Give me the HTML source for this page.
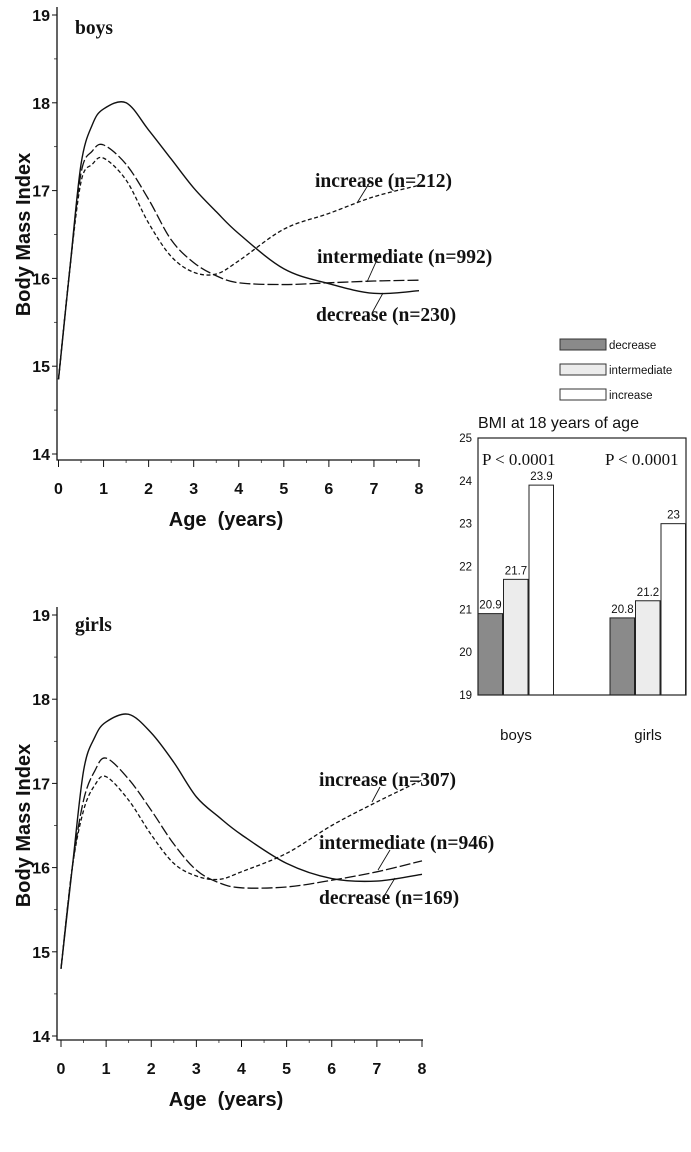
<!DOCTYPE html>
<html><head><meta charset="utf-8"><style>
html,body{margin:0;padding:0;background:#fff;}
svg{display:block;}
.tk{font-family:"Liberation Sans",sans-serif;font-weight:bold;font-size:16px;fill:#111;}
.ttl{font-family:"Liberation Sans",sans-serif;font-weight:bold;font-size:20px;fill:#111;}
.lab{font-family:"Liberation Serif",serif;font-weight:bold;font-size:19.5px;fill:#111;}
.sm{font-family:"Liberation Sans",sans-serif;font-size:11.5px;fill:#111;}
</style></head><body>
<svg id="svg" width="691" height="1152" viewBox="0 0 691 1152"></svg>
<script>
const ages=[0,0.25,0.5,0.75,1,1.5,2,2.5,3,3.5,4,5,6,7,8];
const boysDecrease=[14.85,16.1,17.3,17.75,17.93,18.0,17.69,17.36,17.03,16.76,16.51,16.11,15.94,15.83,15.86];
const boysIntermediate=[14.85,16.1,17.2,17.45,17.52,17.3,16.9,16.44,16.18,16.03,15.95,15.93,15.95,15.97,15.98];
const boysIncrease=[14.85,16.1,17.1,17.3,17.37,17.12,16.63,16.25,16.07,16.05,16.2,16.56,16.74,16.93,17.06];
const girlsDecrease=[14.8,16.0,17.15,17.55,17.73,17.82,17.6,17.25,16.84,16.6,16.39,16.05,15.87,15.84,15.92];
const girlsIntermediate=[14.8,16.0,16.8,17.15,17.3,17.05,16.68,16.28,15.97,15.82,15.76,15.77,15.85,15.95,16.08];
const girlsIncrease=[14.8,16.0,16.68,16.98,17.08,16.8,16.39,16.05,15.9,15.86,15.95,16.17,16.5,16.78,17.04];
const yTicks=[14,15,16,17,18,19];
const xTicks=[0,1,2,3,4,5,6,7,8];
const barGroups=["boys","girls"];
const barSeries=["decrease","intermediate","increase"];
const barBoys=[20.9,21.7,23.9];
const barGirls=[20.8,21.2,23];
const barTickLabels=[19,20,21,22,23,24,25];
const pValues=["P < 0.0001","P < 0.0001"];

const NS="http://www.w3.org/2000/svg";
const svg=document.getElementById('svg');
function mk(tag,attrs,parent,txt){const e=document.createElementNS(NS,tag);for(const k in attrs)e.setAttribute(k,attrs[k]);if(txt!==undefined)e.textContent=txt;(parent||svg).appendChild(e);return e;}

function smooth(pts){let d=`M${pts[0][0]},${pts[0][1]}`;for(let i=0;i<pts.length-1;i++){const p0=pts[Math.max(0,i-1)],p1=pts[i],p2=pts[i+1],p3=pts[Math.min(pts.length-1,i+2)];const c1=[p1[0]+(p2[0]-p0[0])/6,p1[1]+(p2[1]-p0[1])/6],c2=[p2[0]-(p3[0]-p1[0])/6,p2[1]-(p3[1]-p1[1])/6];d+=` C${c1[0]},${c1[1]} ${c2[0]},${c2[1]} ${p2[0]},${p2[1]}`;}return d;}

function lineChart(cfg){
  const g=mk('g',{});
  
  
  const sx=v=>cfg.x0+(cfg.x8-cfg.x0)*v/8;
  const sy=v=>cfg.y19+(cfg.y14-cfg.y19)*(19-v)/5;
  const ax=mk('path',{d:`M57,${cfg.y19-8} L57,${cfg.axY} L${sx(8)+1},${cfg.axY}`,fill:'none',stroke:'#111','stroke-width':1.3},g);
  
  
  yTicks.forEach(t=>{
    mk('line',{x1:52,x2:57,y1:sy(t),y2:sy(t),stroke:'#111'},g);
    if(t<19)mk('line',{x1:54,x2:57,y1:sy(t+0.5),y2:sy(t+0.5),stroke:'#111','stroke-width':0.7},g);
    const tx=mk('text',{x:50,y:sy(t)+6,'text-anchor':'end',class:'tk'},g,t);
    
    
  });
  xTicks.forEach(t=>{
    mk('line',{x1:sx(t),x2:sx(t),y1:cfg.axY,y2:cfg.axY+7,stroke:'#111'},g);
    if(t<8)mk('line',{x1:sx(t+0.5),x2:sx(t+0.5),y1:cfg.axY,y2:cfg.axY+3,stroke:'#111','stroke-width':0.7},g);
    const tx=mk('text',{x:sx(t),y:cfg.axY+34,'text-anchor':'middle',class:'tk'},g,t);
    
    
  });
  const xt=mk('text',{x:226,y:cfg.axY+66,'text-anchor':'middle',class:'ttl'},g,'Age\u00a0 (years)');
  
  
  const yc=(cfg.y19+cfg.y14)/2;
  const yt=mk('text',{x:0,y:0,'text-anchor':'middle',class:'ttl',transform:`translate(30,${yc}) rotate(-90)`},g,'Body Mass Index');
  
  
  const pn=mk('text',{x:75,y:cfg.y19+cfg.tOff,class:'lab'},g,cfg.name);
  
  
  const styles=[['decrease','none',1.4],['intermediate','11,3',1.3],['increase','4,2.5',1.3]];
  cfg.series.forEach((s,i)=>{
    const p=mk('path',{d:smooth(ages.map((a,j)=>[sx(a),sy(s[j])])),fill:'none',stroke:'#111','stroke-width':styles[i][2],'stroke-dasharray':styles[i][1]},g);
    
    
  });
  cfg.labels.forEach(l=>{
    const t=mk('text',{x:l[1],y:l[2]+6,class:'lab'},g,l[0]);
    
    
    mk('line',{x1:l[3],y1:l[4],x2:l[5],y2:l[6],stroke:'#111','stroke-width':0.9},g);
  });
}
lineChart({name:'boys',tOff:19,x0:58.5,x8:419,y19:15,y14:454,axY:460,series:[boysDecrease,boysIntermediate,boysIncrease],
 labels:[['increase (n=212)',315,181,370,182,357,203],['intermediate (n=992)',317,257,380,253,367,282],['decrease (n=230)',316,315,383,293,372,313]]});
lineChart({name:'girls',tOff:16,x0:61,x8:422,y19:615,y14:1036,axY:1040,series:[girlsDecrease,girlsIntermediate,girlsIncrease],
 labels:[['increase (n=307)',319,780,380,787,372,802],['intermediate (n=946)',319,843,390,850,378,870],['decrease (n=169)',319,898,395,878,383,898]]});

const fills=['#8a8a8a','#ececec','#ffffff'];
const bg=mk('g',{});


barSeries.forEach((s,i)=>{
  const y=339+i*25;
  const r=mk('rect',{x:560,y:y,width:46,height:11,fill:fills[i],stroke:'#333','stroke-width':1},bg);
  
  
  const t=mk('text',{x:609,y:y+10,class:'sm'},bg,s);
  
  
});
const bt=mk('text',{x:478,y:428,style:'font-family:"Liberation Sans",sans-serif;font-size:16px;fill:#111'},bg,'BMI at 18 years of age');


const fL=478,fR=686,fT=438,fB=695;
const by=v=>fB-(v-19)*(fB-fT)/6;
barTickLabels.forEach(t=>{
  const tx=mk('text',{x:472,y:by(t)+4,'text-anchor':'end',class:'sm'},bg,t);
  
  
});
const groupX=[478,610];
[barBoys,barGirls].forEach((vals,gi)=>{
  vals.forEach((v,i)=>{
    const x=groupX[gi]+i*25.5;
    const r=mk('rect',{x:x,y:by(v),width:24.5,height:fB-by(v),fill:fills[i],stroke:'#222','stroke-width':1},bg);
    
    
    const t=mk('text',{x:x+12.5,y:by(v)-5,'text-anchor':'middle',class:'sm'},bg,v);
    
    
  });
  const c=mk('text',{x:groupX[gi]+38,y:740,'text-anchor':'middle',style:'font-family:"Liberation Sans",sans-serif;font-size:15px;fill:#111'},bg,barGroups[gi]);
  
  
  const p=mk('text',{x:gi?605:482,y:465,style:'font-family:"Liberation Serif",serif;font-size:17px;fill:#111'},bg,pValues[gi]);
  
  
});
const fr=mk('rect',{x:fL,y:fT,width:fR-fL,height:fB-fT,fill:'none',stroke:'#222','stroke-width':1.2},bg);


</script>
</body></html>
